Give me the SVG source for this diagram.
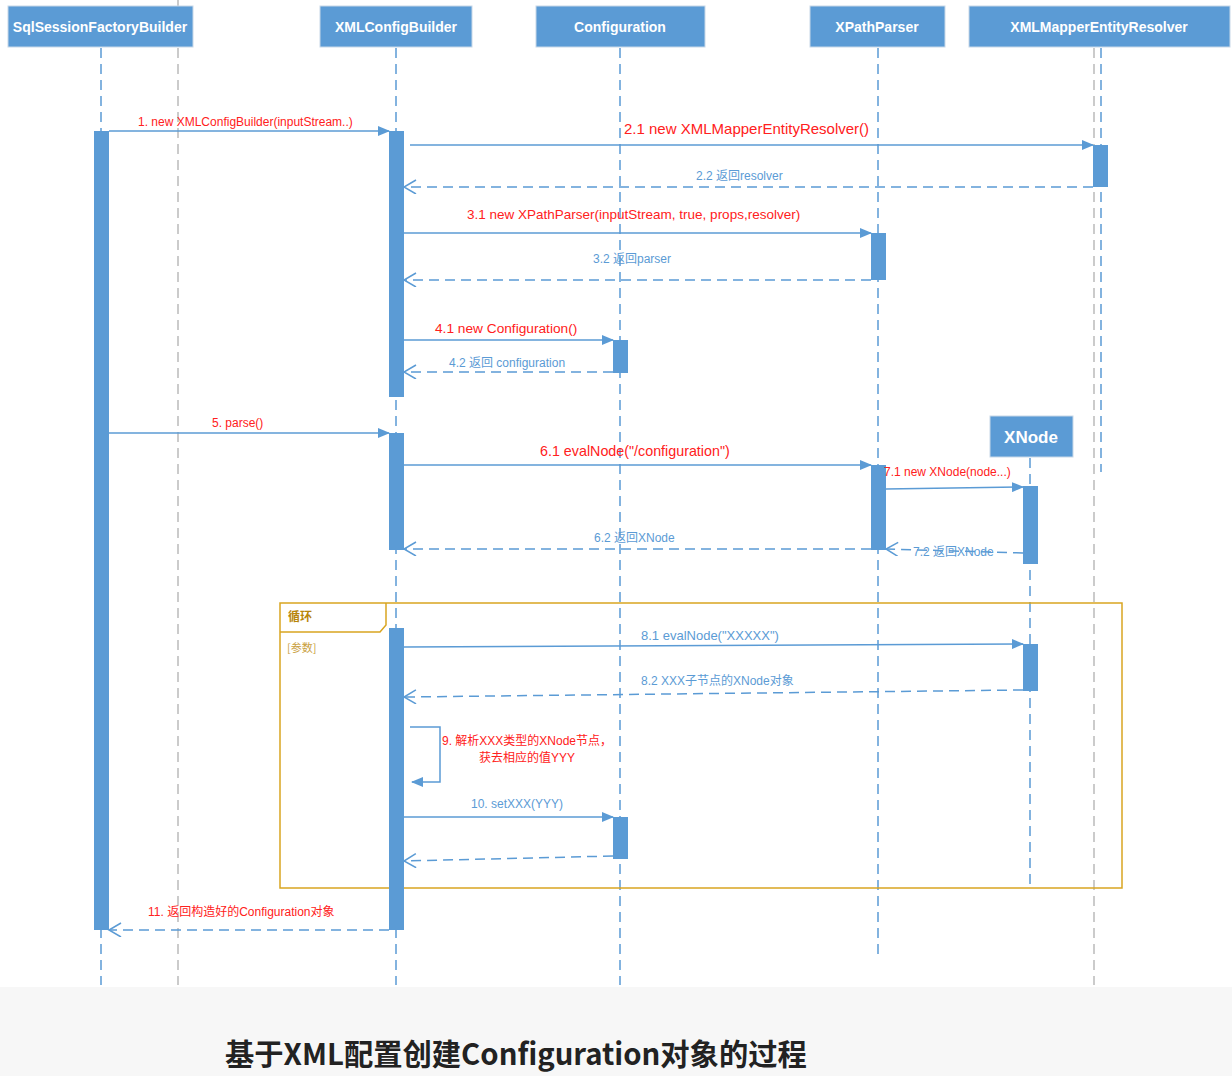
<svg xmlns="http://www.w3.org/2000/svg" width="1232" height="1076" viewBox="0 0 1232 1076">
<defs>
<marker id="fa" markerWidth="12" markerHeight="10" refX="11" refY="5" orient="auto" markerUnits="userSpaceOnUse"><path d="M0,0 L12,5 L0,10 Z" fill="#5b9bd5"/></marker>
<marker id="oa" markerWidth="16" markerHeight="16" refX="13" refY="7" orient="auto" markerUnits="userSpaceOnUse"><path d="M1,0 L13,7 L1,14" fill="none" stroke="#5b9bd5" stroke-width="1.5" stroke-dasharray="none"/></marker>
</defs>
<style>
.hd{fill:#5b9bd5;stroke:#c8d8e8;stroke-width:1}
.ht{font-family:"Liberation Sans",Arial,sans-serif;font-size:14px;font-weight:bold;fill:#fff;text-anchor:middle}
.ll{stroke:#5b9bd5;stroke-width:1.5;stroke-dasharray:10,6;fill:none}
.gl{stroke:#bbb;stroke-width:1.5;stroke-dasharray:10,6;fill:none}
.act{fill:#5b9bd5}
.m{stroke:#5b9bd5;stroke-width:1.5;fill:none;marker-end:url(#fa)}
.r{stroke:#5b9bd5;stroke-width:1.5;fill:none;stroke-dasharray:10,6;marker-end:url(#oa)}
.rt{font-family:"Liberation Sans","Noto Sans CJK SC",sans-serif;fill:#ff2020;font-size:12px}
.bt{font-family:"Liberation Sans","Noto Sans CJK SC",sans-serif;fill:#5b9bd5;font-size:12px}
</style>
<rect width="1232" height="1076" fill="#fff"/>
<rect x="0" y="987" width="1232" height="89" fill="#f7f7f7"/>
<text x="225" y="1065" font-family="'Noto Sans CJK SC',sans-serif" font-size="29.3" font-weight="bold" fill="#222">基于XML配置创建Configuration对象的过程</text>
<g id="lifelines">
<line class="gl" x1="178" y1="0" x2="178" y2="985"/>
<line class="gl" x1="1094" y1="48" x2="1094" y2="985"/>
<line class="ll" x1="101" y1="48" x2="101" y2="985"/>
<line class="ll" x1="396" y1="48" x2="396" y2="985"/>
<line class="ll" x1="620" y1="48" x2="620" y2="985"/>
<line class="ll" x1="878" y1="48" x2="878" y2="960"/>
<line class="ll" x1="1101" y1="48" x2="1101" y2="472"/>
<line class="ll" x1="1030" y1="458" x2="1030" y2="885"/>
</g>
<g id="SqlSessionFactoryBuilder"><rect class="hd" x="8" y="6" width="185" height="41"/><text class="ht" x="100" y="32">SqlSessionFactoryBuilder</text></g>
<g id="XMLConfigBuilder"><rect class="hd" x="320" y="6" width="152" height="41"/><text class="ht" x="396" y="32">XMLConfigBuilder</text></g>
<g id="Configuration"><rect class="hd" x="536" y="6" width="169" height="41"/><text class="ht" x="620" y="32">Configuration</text></g>
<g id="XPathParser"><rect class="hd" x="810" y="6" width="135" height="41"/><text class="ht" x="877" y="32">XPathParser</text></g>
<g id="XMLMapperEntityResolver"><rect class="hd" x="969" y="6" width="261" height="41"/><text class="ht" x="1099" y="32">XMLMapperEntityResolver</text></g>
<g id="XNode"><rect class="hd" x="990" y="416" width="83" height="41"/><text class="ht" x="1031" y="443" style="font-size:17px">XNode</text></g>
<g id="loop">
<rect x="280" y="603" width="842" height="285" fill="none" stroke="#d9a520" stroke-width="1.5"/>
<path d="M280,632 L380,632 L386,625 L386,603" fill="none" stroke="#d9a520" stroke-width="1.5"/>
<text x="288" y="621" font-family="'Noto Sans CJK SC',sans-serif" font-size="12" font-weight="bold" fill="#b8860b">循环</text>
<text x="287" y="652" font-family="'Noto Sans CJK SC',sans-serif" font-size="11" fill="#c9a040">[参数]</text>
</g>
<g id="activations">
<rect class="act" x="94" y="131" width="15" height="799"/>
<rect class="act" x="389" y="131" width="15" height="266"/>
<rect class="act" x="1093" y="145" width="15" height="42"/>
<rect class="act" x="871" y="233" width="15" height="47"/>
<rect class="act" x="613" y="340" width="15" height="33"/>
<rect class="act" x="389" y="433" width="15" height="117"/>
<rect class="act" x="871" y="465" width="15" height="85"/>
<rect class="act" x="1023" y="486" width="15" height="78"/>
<rect class="act" x="389" y="628" width="15" height="302"/>
<rect class="act" x="1023" y="644" width="15" height="47"/>
<rect class="act" x="613" y="817" width="15" height="42"/>
</g>
<g id="connectors">
<line class="m" x1="109" y1="131" x2="389" y2="131"/>
<line class="m" x1="410" y1="145" x2="1093" y2="145"/>
<line class="r" x1="1093" y1="187" x2="404" y2="187"/>
<line class="m" x1="404" y1="233" x2="871" y2="233"/>
<line class="r" x1="871" y1="280" x2="404" y2="280"/>
<line class="m" x1="404" y1="340" x2="613" y2="340"/>
<line class="r" x1="613" y1="372" x2="404" y2="372"/>
<line class="m" x1="109" y1="433" x2="389" y2="433"/>
<line class="m" x1="404" y1="465" x2="871" y2="465"/>
<line class="m" x1="886" y1="489" x2="1023" y2="487"/>
<line class="r" x1="871" y1="549" x2="404" y2="549"/>
<line class="r" x1="1023" y1="553" x2="886" y2="549"/>
<line class="m" x1="404" y1="647" x2="1023" y2="644"/>
<line class="r" x1="1023" y1="690" x2="404" y2="697"/>
<path class="m" d="M410,727 L440,727 L440,782 L412,782"/>
<line class="m" x1="404" y1="817" x2="613" y2="817"/>
<line class="r" x1="613" y1="856" x2="404" y2="861"/>
<line class="r" x1="389" y1="930" x2="109" y2="930"/>
</g>
<g id="labels">
<text class="rt" x="138" y="126">1. new XMLConfigBuilder(inputStream..)</text>
<text class="rt" x="624" y="134" style="font-size:15px">2.1 new XMLMapperEntityResolver()</text>
<text class="bt" x="696" y="180">2.2 返回resolver</text>
<text class="rt" x="467" y="219" style="font-size:13.5px">3.1 new XPathParser(inputStream, true, props,resolver)</text>
<text class="bt" x="593" y="263">3.2  返回parser</text>
<text class="rt" x="435" y="333" style="font-size:13.7px">4.1 new Configuration()</text>
<text class="bt" x="449" y="367">4.2 返回 configuration</text>
<text class="rt" x="212" y="427">5. parse()</text>
<text class="rt" x="540" y="456" style="font-size:14.3px">6.1  evalNode("/configuration")</text>
<text class="rt" x="884" y="476">7.1 new XNode(node...)</text>
<text class="bt" x="594" y="542">6.2 返回XNode</text>
<text class="bt" x="913" y="556">7.2 返回XNode</text>
<text class="bt" x="641" y="640" style="font-size:13px">8.1 evalNode("XXXXX")</text>
<text class="bt" x="641" y="685">8.2 XXX子节点的XNode对象</text>
<text class="rt" x="442" y="745">9. 解析XXX类型的XNode节点，</text>
<text class="rt" x="479" y="762">获去相应的值YYY</text>
<text class="bt" x="471" y="808">10. setXXX(YYY)</text>
<text class="rt" x="148" y="916">11. 返回构造好的Configuration对象</text>
</g>
</svg>
